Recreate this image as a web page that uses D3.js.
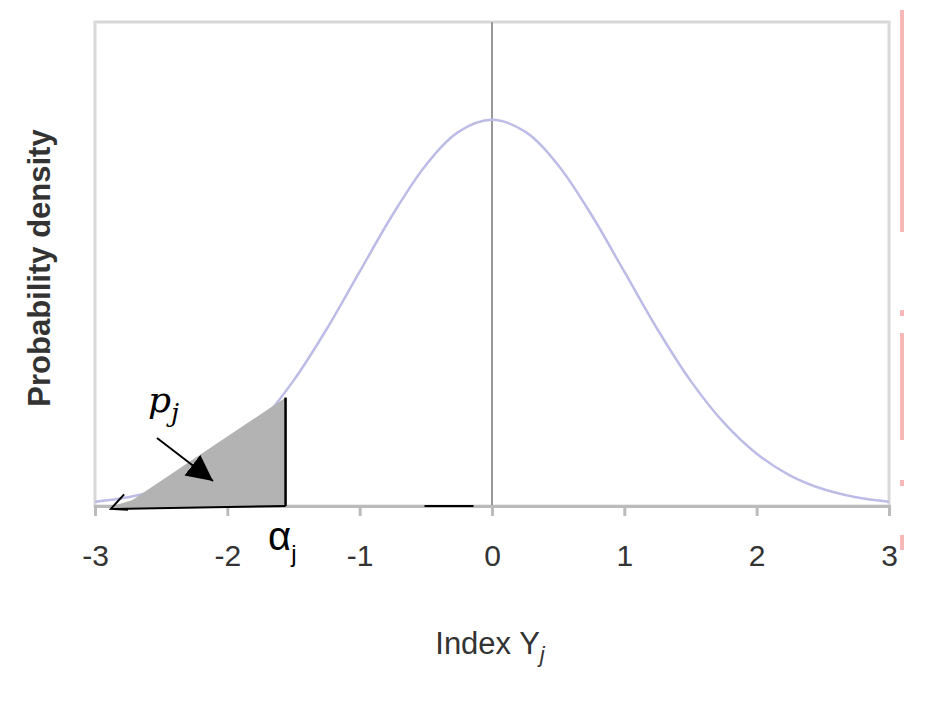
<!DOCTYPE html>
<html><head><meta charset="utf-8">
<script src="https://cdn.jsdelivr.net/npm/d3@7/dist/d3.min.js"></script>
<style>body{margin:0;background:#fff}</style></head>
<body><svg id="c" width="933" height="720"></svg>
<script>
const xTicks = [-3,-2,-1,0,1,2,3];
const xs = [-3,-2.75,-2.5,-2.25,-2,-1.75,-1.5,-1.25,-1,-0.75,-0.5,-0.25,0,0.25,0.5,0.75,1,1.25,1.5,1.75,2,2.25,2.5,2.75,3];
const density = [0.0044,0.0091,0.0175,0.0317,0.054,0.0863,0.1295,0.1826,0.242,0.3011,0.3521,0.3867,0.3989,0.3867,0.3521,0.3011,0.242,0.1826,0.1295,0.0863,0.054,0.0317,0.0175,0.0091,0.0044];
const shadeX = [-2.72,-1.56,-1.56,-2.92];
const shadeY = [0.006,0.112,0,-0.002];
const alphaX = -1.56;

const svg = d3.select("#c");
const x = d3.scaleLinear().domain([-3,3]).range([95,889]);
const y = d3.scaleLinear().domain([0,0.5]).range([506,22]);

svg.append("rect").attr("x",95).attr("y",22).attr("width",794).attr("height",484)
  .attr("fill","none").attr("stroke","#d8d8d8").attr("stroke-width",3);
svg.append("line").attr("x1",x(0)).attr("x2",x(0)).attr("y1",22).attr("y2",506).attr("stroke","#999").attr("stroke-width",2);

const ax = svg.append("g").attr("transform","translate(0,506)")
  .call(d3.axisBottom(x).tickValues(xTicks).tickSize(10).tickFormat(d=>String(d)));
ax.select(".domain").attr("stroke","#bbb").attr("stroke-width",3);
ax.selectAll(".tick line").attr("stroke","#bbb").attr("stroke-width",3);
ax.selectAll(".tick text").attr("font-family","Liberation Sans, Arial").attr("font-size",30).attr("fill","#333").attr("dy","1.55em");

svg.append("path").datum(xs.map((d,i)=>[d,density[i]]))
  .attr("d",d3.line().x(d=>x(d[0])).y(d=>y(d[1])).curve(d3.curveCatmullRom))
  .attr("fill","none").attr("stroke","#bcbce6").attr("stroke-width",2.5);

svg.append("path").attr("d",d3.line()(shadeX.map((d,i)=>[x(d),y(shadeY[i])])))
  .attr("fill","#b3b3b3");
svg.append("line").attr("x1",x(alphaX)).attr("x2",x(alphaX)).attr("y1",y(0.112)).attr("y2",y(0)).attr("stroke","#000").attr("stroke-width",2.5);

const defs = svg.append("defs");
defs.append("marker").attr("id","ah").attr("viewBox","0 0 10 10").attr("refX",10).attr("refY",5)
  .attr("markerWidth",12).attr("markerHeight",12).attr("markerUnits","userSpaceOnUse").attr("orient","auto")
  .append("path").attr("d","M0,0L10,5L0,10z").attr("fill","#000");
defs.select("marker").attr("markerWidth",26).attr("markerHeight",26);
svg.append("line").attr("x1",x(alphaX)).attr("y1",y(0)).attr("x2",x(-2.86)).attr("y2",y(-0.003))
  .attr("stroke","#000").attr("stroke-width",2);
svg.append("path").attr("d",`M${x(-2.78)},${y(0.012)} L${x(-2.88)},${y(-0.003)} L${x(-2.75)},${y(-0.004)}`)
  .attr("fill","none").attr("stroke","#000").attr("stroke-width",2);
svg.append("line").attr("x1",157).attr("y1",438).attr("x2",213).attr("y2",481)
  .attr("stroke","#000").attr("stroke-width",2).attr("marker-end","url(#ah)");
svg.append("line").attr("x1",x(-0.51)).attr("x2",x(-0.14)).attr("y1",y(0)).attr("y2",y(0)).attr("stroke","#000").attr("stroke-width",2);

svg.append("text").attr("x",148).attr("y",412).attr("font-family","DejaVu Serif").attr("font-style","italic").attr("font-size",36).text("p")
  .append("tspan").attr("font-size",26).attr("dy",10).text("j");
svg.append("text").attr("x",268).attr("y",550).attr("font-family","Liberation Sans").attr("font-size",40).text("α")
  .append("tspan").attr("font-size",24).attr("dy",12).text("j");

svg.append("text").attr("x",490).attr("y",654).attr("text-anchor","middle").attr("font-family","Liberation Sans").attr("font-size",31).attr("fill","#333")
  .text("Index Y").append("tspan").attr("font-size",22).attr("dy",8).attr("font-style","italic").text("j");
svg.append("text").attr("transform","translate(50,268) rotate(-90)").attr("text-anchor","middle")
  .attr("font-family","Liberation Sans").attr("font-weight","bold").attr("font-size",31).attr("fill","#333").text("Probability density");

[[10,232],[310,316],[333,440],[480,486],[535,550]].forEach(s=>
  svg.append("line").attr("x1",902).attr("x2",902).attr("y1",s[0]).attr("y2",s[1]).attr("stroke","#f7b8b8").attr("stroke-width",4));
</script></body></html>
